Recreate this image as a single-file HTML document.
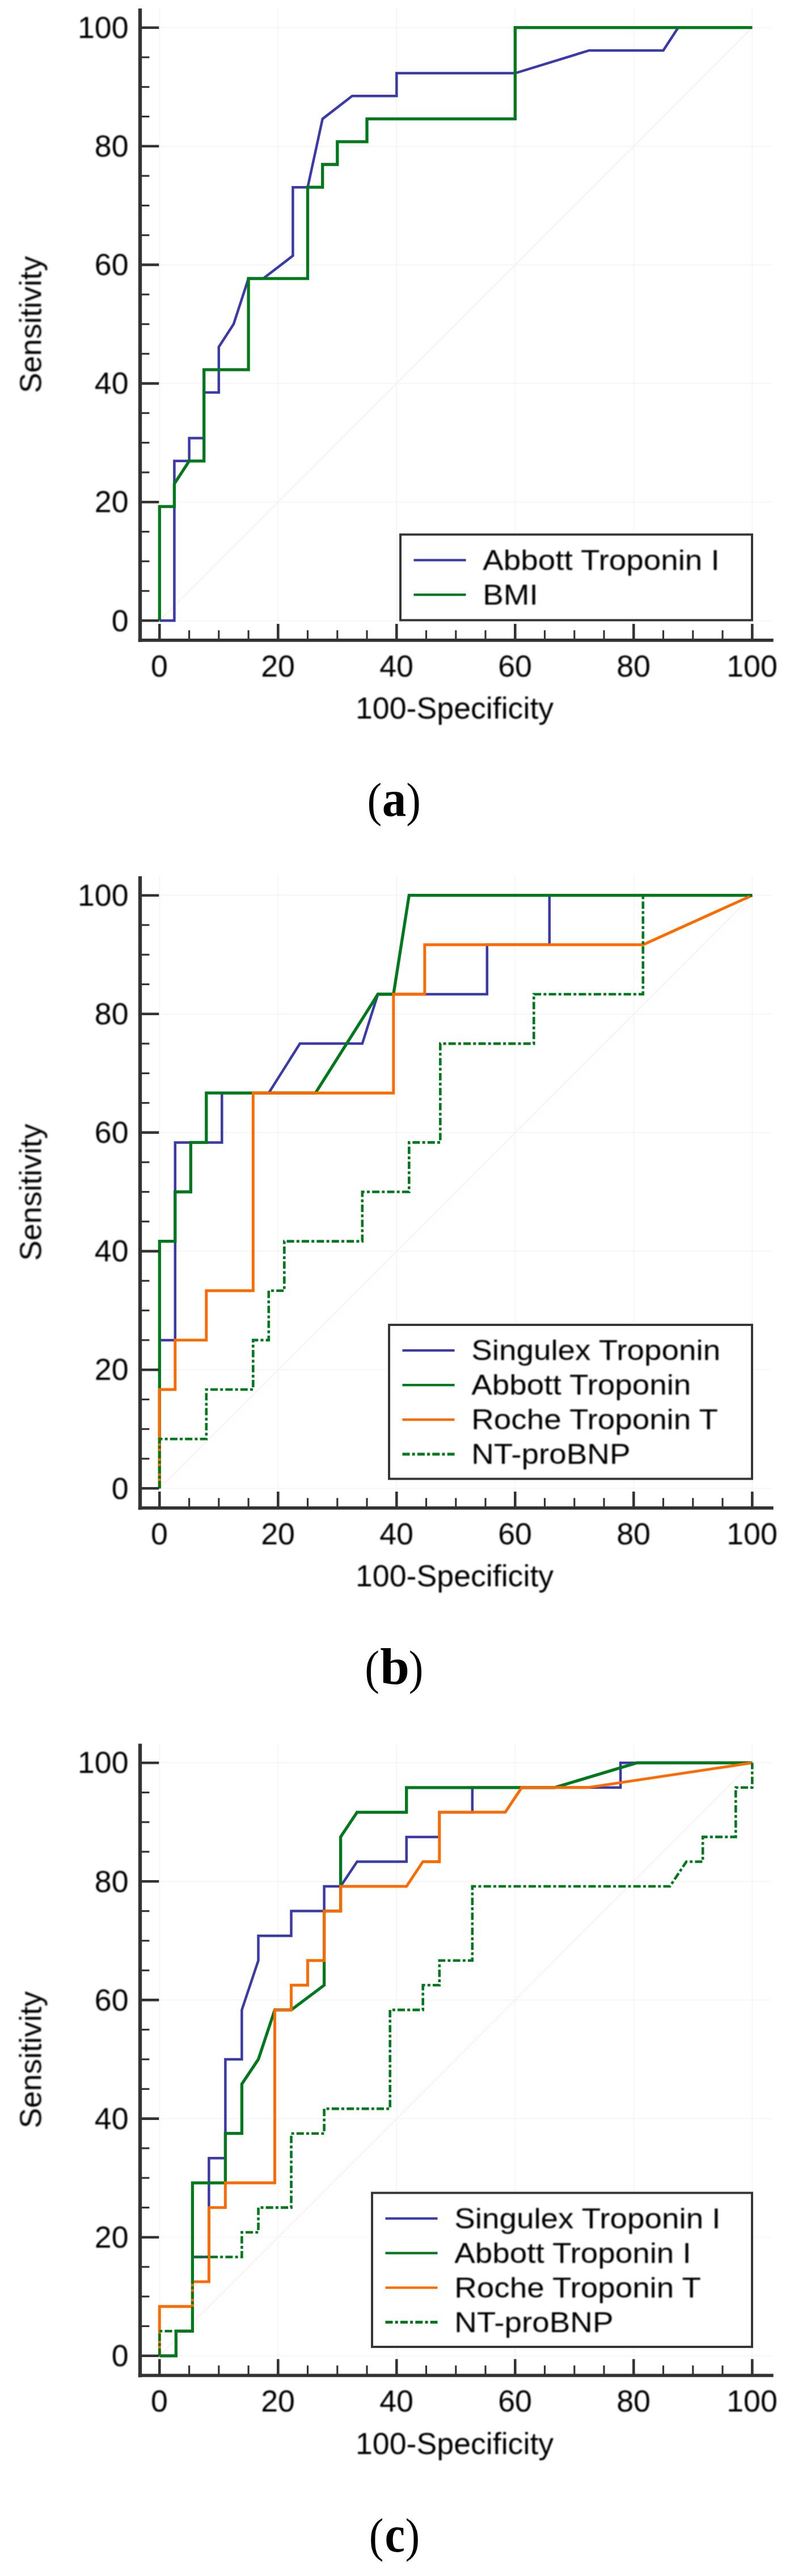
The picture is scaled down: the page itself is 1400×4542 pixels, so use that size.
<!DOCTYPE html>
<html lang="en"><head><meta charset="utf-8"><title>ROC curves</title>
<style>
html,body{margin:0;padding:0;background:#fff;}
svg{display:block;}
text{font-family:"Liberation Sans",sans-serif;fill:#000000;}
.cap{font-family:"Liberation Serif",serif;fill:#000;}
.tk{font-size:53.7px;}
.lg{font-size:50.5px;}
</style></head><body>
<svg width="1400" height="4542" viewBox="0 0 1400 4542">
<defs><filter id="soft" x="0" y="0" width="1400" height="4542" filterUnits="userSpaceOnUse"><feGaussianBlur stdDeviation="0.8"/></filter></defs>
<rect x="0" y="0" width="1400" height="4542" fill="#ffffff"/>
<g>
<g id="chart-a">
<g stroke="#f5f5f5" stroke-width="1.8" fill="none">
<line x1="281.3" y1="14.0" x2="281.3" y2="1095.3"/>
<line x1="280.3" y1="1094.3" x2="1360.0" y2="1094.3"/>
<line x1="490.3" y1="14.0" x2="490.3" y2="1095.3"/>
<line x1="280.3" y1="885.2" x2="1360.0" y2="885.2"/>
<line x1="699.3" y1="14.0" x2="699.3" y2="1095.3"/>
<line x1="280.3" y1="676.1" x2="1360.0" y2="676.1"/>
<line x1="908.3" y1="14.0" x2="908.3" y2="1095.3"/>
<line x1="280.3" y1="466.9" x2="1360.0" y2="466.9"/>
<line x1="1117.3" y1="14.0" x2="1117.3" y2="1095.3"/>
<line x1="280.3" y1="257.8" x2="1360.0" y2="257.8"/>
<line x1="1326.3" y1="14.0" x2="1326.3" y2="1095.3"/>
<line x1="280.3" y1="48.7" x2="1360.0" y2="48.7"/>
</g>
<line x1="281.3" y1="1094.3" x2="1326.3" y2="48.7" stroke="#fcf0f0" stroke-width="2.2"/>
<polyline points="281.3,1094.3 307.4,1094.3 307.4,812.8 333.6,812.8 333.6,772.6 359.7,772.6 359.7,692.1 385.8,692.1 385.8,611.7 411.9,571.5 438.1,491.1 464.2,491.1 516.4,450.9 516.4,330.2 542.5,330.2 568.7,209.6 620.9,169.3 699.3,169.3 699.3,129.1 908.3,129.1 1038.9,88.9 1169.5,88.9 1195.7,48.7 1326.3,48.7" fill="none" stroke="#3a3aa8" stroke-width="4.5" stroke-linejoin="miter" stroke-linecap="butt"/>
<polyline points="281.3,1094.3 281.3,893.2 307.4,893.2 307.4,853.0 333.6,812.8 359.7,812.8 359.7,651.9 438.1,651.9 438.1,491.1 542.5,491.1 542.5,330.2 568.7,330.2 568.7,290.0 594.8,290.0 594.8,249.8 647.0,249.8 647.0,209.6 908.3,209.6 908.3,48.7 1326.3,48.7" fill="none" stroke="#00791c" stroke-width="5.3" stroke-linejoin="miter" stroke-linecap="butt"/>
<rect x="706.0" y="942.5" width="620.0" height="151.0" fill="#ffffff" stroke="#333333" stroke-width="3.9"/>
<line x1="729.5" y1="987.6" x2="821.5" y2="987.6" stroke="#3a3aa8" stroke-width="4.4"/>
<line x1="729.5" y1="1048.6" x2="821.5" y2="1048.6" stroke="#00791c" stroke-width="4.4"/>
<g stroke="#333333" fill="none">
<line x1="247.0" y1="15.0" x2="247.0" y2="1131.9" stroke-width="6.4"/>
<line x1="243.8" y1="1128.9" x2="1363.7" y2="1128.9" stroke-width="5.8"/>
<line x1="247.0" y1="1094.3" x2="280.3" y2="1094.3" stroke-width="4.6"/>
<line x1="281.3" y1="1128.9" x2="281.3" y2="1100.0" stroke-width="4.6"/>
<line x1="247.0" y1="1042.0" x2="263.4" y2="1042.0" stroke-width="3.2"/>
<line x1="333.6" y1="1128.9" x2="333.6" y2="1111.3" stroke-width="3.2"/>
<line x1="247.0" y1="989.7" x2="263.4" y2="989.7" stroke-width="3.2"/>
<line x1="385.8" y1="1128.9" x2="385.8" y2="1111.3" stroke-width="3.2"/>
<line x1="247.0" y1="937.5" x2="263.4" y2="937.5" stroke-width="3.2"/>
<line x1="438.1" y1="1128.9" x2="438.1" y2="1111.3" stroke-width="3.2"/>
<line x1="247.0" y1="885.2" x2="280.3" y2="885.2" stroke-width="4.6"/>
<line x1="490.3" y1="1128.9" x2="490.3" y2="1100.0" stroke-width="4.6"/>
<line x1="247.0" y1="832.9" x2="263.4" y2="832.9" stroke-width="3.2"/>
<line x1="542.5" y1="1128.9" x2="542.5" y2="1111.3" stroke-width="3.2"/>
<line x1="247.0" y1="780.6" x2="263.4" y2="780.6" stroke-width="3.2"/>
<line x1="594.8" y1="1128.9" x2="594.8" y2="1111.3" stroke-width="3.2"/>
<line x1="247.0" y1="728.3" x2="263.4" y2="728.3" stroke-width="3.2"/>
<line x1="647.0" y1="1128.9" x2="647.0" y2="1111.3" stroke-width="3.2"/>
<line x1="247.0" y1="676.1" x2="280.3" y2="676.1" stroke-width="4.6"/>
<line x1="699.3" y1="1128.9" x2="699.3" y2="1100.0" stroke-width="4.6"/>
<line x1="247.0" y1="623.8" x2="263.4" y2="623.8" stroke-width="3.2"/>
<line x1="751.5" y1="1128.9" x2="751.5" y2="1111.3" stroke-width="3.2"/>
<line x1="247.0" y1="571.5" x2="263.4" y2="571.5" stroke-width="3.2"/>
<line x1="803.8" y1="1128.9" x2="803.8" y2="1111.3" stroke-width="3.2"/>
<line x1="247.0" y1="519.2" x2="263.4" y2="519.2" stroke-width="3.2"/>
<line x1="856.0" y1="1128.9" x2="856.0" y2="1111.3" stroke-width="3.2"/>
<line x1="247.0" y1="466.9" x2="280.3" y2="466.9" stroke-width="4.6"/>
<line x1="908.3" y1="1128.9" x2="908.3" y2="1100.0" stroke-width="4.6"/>
<line x1="247.0" y1="414.7" x2="263.4" y2="414.7" stroke-width="3.2"/>
<line x1="960.5" y1="1128.9" x2="960.5" y2="1111.3" stroke-width="3.2"/>
<line x1="247.0" y1="362.4" x2="263.4" y2="362.4" stroke-width="3.2"/>
<line x1="1012.8" y1="1128.9" x2="1012.8" y2="1111.3" stroke-width="3.2"/>
<line x1="247.0" y1="310.1" x2="263.4" y2="310.1" stroke-width="3.2"/>
<line x1="1065.0" y1="1128.9" x2="1065.0" y2="1111.3" stroke-width="3.2"/>
<line x1="247.0" y1="257.8" x2="280.3" y2="257.8" stroke-width="4.6"/>
<line x1="1117.3" y1="1128.9" x2="1117.3" y2="1100.0" stroke-width="4.6"/>
<line x1="247.0" y1="205.5" x2="263.4" y2="205.5" stroke-width="3.2"/>
<line x1="1169.5" y1="1128.9" x2="1169.5" y2="1111.3" stroke-width="3.2"/>
<line x1="247.0" y1="153.3" x2="263.4" y2="153.3" stroke-width="3.2"/>
<line x1="1221.8" y1="1128.9" x2="1221.8" y2="1111.3" stroke-width="3.2"/>
<line x1="247.0" y1="101.0" x2="263.4" y2="101.0" stroke-width="3.2"/>
<line x1="1274.0" y1="1128.9" x2="1274.0" y2="1111.3" stroke-width="3.2"/>
<line x1="247.0" y1="48.7" x2="280.3" y2="48.7" stroke-width="4.6"/>
<line x1="1326.3" y1="1128.9" x2="1326.3" y2="1100.0" stroke-width="4.6"/>
</g>
<text class="cap" font-size="85.6px" transform="translate(647.6,1439.4) scale(0.9,1)">(</text>
<text class="cap" font-size="90.0px" font-weight="bold" transform="translate(673.8,1439.4) scale(0.945,1)">a</text>
<text class="cap" font-size="85.6px" transform="translate(716.3,1439.4) scale(0.9,1)">)</text>
</g>
<g id="chart-b">
<g stroke="#f5f5f5" stroke-width="1.8" fill="none">
<line x1="281.3" y1="1544.0" x2="281.3" y2="2625.3"/>
<line x1="280.3" y1="2624.3" x2="1360.0" y2="2624.3"/>
<line x1="490.3" y1="1544.0" x2="490.3" y2="2625.3"/>
<line x1="280.3" y1="2415.2" x2="1360.0" y2="2415.2"/>
<line x1="699.3" y1="1544.0" x2="699.3" y2="2625.3"/>
<line x1="280.3" y1="2206.1" x2="1360.0" y2="2206.1"/>
<line x1="908.3" y1="1544.0" x2="908.3" y2="2625.3"/>
<line x1="280.3" y1="1996.9" x2="1360.0" y2="1996.9"/>
<line x1="1117.3" y1="1544.0" x2="1117.3" y2="2625.3"/>
<line x1="280.3" y1="1787.8" x2="1360.0" y2="1787.8"/>
<line x1="1326.3" y1="1544.0" x2="1326.3" y2="2625.3"/>
<line x1="280.3" y1="1578.7" x2="1360.0" y2="1578.7"/>
</g>
<line x1="281.3" y1="2624.3" x2="1326.3" y2="1578.7" stroke="#fcf0f0" stroke-width="2.2"/>
<polyline points="281.3,2624.3 281.3,2362.9 308.8,2362.9 308.8,2014.4 391.3,2014.4 391.3,1927.2 473.8,1927.2 528.8,1840.1 638.8,1840.1 666.3,1753.0 858.8,1753.0 858.8,1665.8 968.8,1665.8 968.8,1578.7 1326.3,1578.7" fill="none" stroke="#3a3aa8" stroke-width="4.5" stroke-linejoin="miter" stroke-linecap="butt"/>
<polyline points="281.3,2624.3 281.3,2188.6 308.8,2188.6 308.8,2101.5 336.3,2101.5 336.3,2014.4 363.8,2014.4 363.8,1927.2 556.3,1927.2 666.3,1753.0 693.8,1753.0 721.3,1578.7 1326.3,1578.7" fill="none" stroke="#00791c" stroke-width="5.3" stroke-linejoin="miter" stroke-linecap="butt"/>
<polyline points="281.3,2624.3 281.3,2450.0 308.8,2450.0 308.8,2362.9 363.8,2362.9 363.8,2275.8 446.3,2275.8 446.3,1927.2 693.8,1927.2 693.8,1753.0 748.8,1753.0 748.8,1665.8 1133.8,1665.8 1326.3,1578.7" fill="none" stroke="#ff6a00" stroke-width="4.9" stroke-linejoin="miter" stroke-linecap="butt"/>
<polyline points="281.3,2624.3 281.3,2537.2 363.8,2537.2 363.8,2450.0 446.3,2450.0 446.3,2362.9 473.8,2362.9 473.8,2275.8 501.3,2275.8 501.3,2188.6 638.8,2188.6 638.8,2101.5 721.3,2101.5 721.3,2014.4 776.3,2014.4 776.3,1840.1 941.3,1840.1 941.3,1753.0 1133.8,1753.0 1133.8,1578.7 1326.3,1578.7" fill="none" stroke="#00791c" stroke-width="4.6" stroke-linejoin="miter" stroke-linecap="butt" stroke-dasharray="13 4.2 5 4.2"/>
<rect x="686.0" y="2336.0" width="640.0" height="271.5" fill="#ffffff" stroke="#333333" stroke-width="3.9"/>
<line x1="709.5" y1="2381.1" x2="801.5" y2="2381.1" stroke="#3a3aa8" stroke-width="4.4"/>
<line x1="709.5" y1="2442.1" x2="801.5" y2="2442.1" stroke="#00791c" stroke-width="4.4"/>
<line x1="709.5" y1="2503.1" x2="801.5" y2="2503.1" stroke="#ff6a00" stroke-width="4.4"/>
<line x1="709.5" y1="2564.1" x2="801.5" y2="2564.1" stroke="#00791c" stroke-width="5.0" stroke-dasharray="13 4.2 5 4.2"/>
<g stroke="#333333" fill="none">
<line x1="247.0" y1="1545.0" x2="247.0" y2="2661.9" stroke-width="6.4"/>
<line x1="243.8" y1="2658.9" x2="1363.7" y2="2658.9" stroke-width="5.8"/>
<line x1="247.0" y1="2624.3" x2="280.3" y2="2624.3" stroke-width="4.6"/>
<line x1="281.3" y1="2658.9" x2="281.3" y2="2630.0" stroke-width="4.6"/>
<line x1="247.0" y1="2572.0" x2="263.4" y2="2572.0" stroke-width="3.2"/>
<line x1="333.6" y1="2658.9" x2="333.6" y2="2641.3" stroke-width="3.2"/>
<line x1="247.0" y1="2519.7" x2="263.4" y2="2519.7" stroke-width="3.2"/>
<line x1="385.8" y1="2658.9" x2="385.8" y2="2641.3" stroke-width="3.2"/>
<line x1="247.0" y1="2467.5" x2="263.4" y2="2467.5" stroke-width="3.2"/>
<line x1="438.1" y1="2658.9" x2="438.1" y2="2641.3" stroke-width="3.2"/>
<line x1="247.0" y1="2415.2" x2="280.3" y2="2415.2" stroke-width="4.6"/>
<line x1="490.3" y1="2658.9" x2="490.3" y2="2630.0" stroke-width="4.6"/>
<line x1="247.0" y1="2362.9" x2="263.4" y2="2362.9" stroke-width="3.2"/>
<line x1="542.5" y1="2658.9" x2="542.5" y2="2641.3" stroke-width="3.2"/>
<line x1="247.0" y1="2310.6" x2="263.4" y2="2310.6" stroke-width="3.2"/>
<line x1="594.8" y1="2658.9" x2="594.8" y2="2641.3" stroke-width="3.2"/>
<line x1="247.0" y1="2258.3" x2="263.4" y2="2258.3" stroke-width="3.2"/>
<line x1="647.0" y1="2658.9" x2="647.0" y2="2641.3" stroke-width="3.2"/>
<line x1="247.0" y1="2206.1" x2="280.3" y2="2206.1" stroke-width="4.6"/>
<line x1="699.3" y1="2658.9" x2="699.3" y2="2630.0" stroke-width="4.6"/>
<line x1="247.0" y1="2153.8" x2="263.4" y2="2153.8" stroke-width="3.2"/>
<line x1="751.5" y1="2658.9" x2="751.5" y2="2641.3" stroke-width="3.2"/>
<line x1="247.0" y1="2101.5" x2="263.4" y2="2101.5" stroke-width="3.2"/>
<line x1="803.8" y1="2658.9" x2="803.8" y2="2641.3" stroke-width="3.2"/>
<line x1="247.0" y1="2049.2" x2="263.4" y2="2049.2" stroke-width="3.2"/>
<line x1="856.0" y1="2658.9" x2="856.0" y2="2641.3" stroke-width="3.2"/>
<line x1="247.0" y1="1996.9" x2="280.3" y2="1996.9" stroke-width="4.6"/>
<line x1="908.3" y1="2658.9" x2="908.3" y2="2630.0" stroke-width="4.6"/>
<line x1="247.0" y1="1944.7" x2="263.4" y2="1944.7" stroke-width="3.2"/>
<line x1="960.5" y1="2658.9" x2="960.5" y2="2641.3" stroke-width="3.2"/>
<line x1="247.0" y1="1892.4" x2="263.4" y2="1892.4" stroke-width="3.2"/>
<line x1="1012.8" y1="2658.9" x2="1012.8" y2="2641.3" stroke-width="3.2"/>
<line x1="247.0" y1="1840.1" x2="263.4" y2="1840.1" stroke-width="3.2"/>
<line x1="1065.0" y1="2658.9" x2="1065.0" y2="2641.3" stroke-width="3.2"/>
<line x1="247.0" y1="1787.8" x2="280.3" y2="1787.8" stroke-width="4.6"/>
<line x1="1117.3" y1="2658.9" x2="1117.3" y2="2630.0" stroke-width="4.6"/>
<line x1="247.0" y1="1735.5" x2="263.4" y2="1735.5" stroke-width="3.2"/>
<line x1="1169.5" y1="2658.9" x2="1169.5" y2="2641.3" stroke-width="3.2"/>
<line x1="247.0" y1="1683.3" x2="263.4" y2="1683.3" stroke-width="3.2"/>
<line x1="1221.8" y1="2658.9" x2="1221.8" y2="2641.3" stroke-width="3.2"/>
<line x1="247.0" y1="1631.0" x2="263.4" y2="1631.0" stroke-width="3.2"/>
<line x1="1274.0" y1="2658.9" x2="1274.0" y2="2641.3" stroke-width="3.2"/>
<line x1="247.0" y1="1578.7" x2="280.3" y2="1578.7" stroke-width="4.6"/>
<line x1="1326.3" y1="2658.9" x2="1326.3" y2="2630.0" stroke-width="4.6"/>
</g>
<text class="cap" font-size="85.6px" transform="translate(643.2,2969.4) scale(0.9,1)">(</text>
<text class="cap" font-size="90.0px" font-weight="bold" transform="translate(670.2,2969.4) scale(1.035,1)">b</text>
<text class="cap" font-size="85.6px" transform="translate(720.8,2969.4) scale(0.9,1)">)</text>
</g>
<g id="chart-c">
<g stroke="#f5f5f5" stroke-width="1.8" fill="none">
<line x1="281.3" y1="3073.5" x2="281.3" y2="4154.8"/>
<line x1="280.3" y1="4153.8" x2="1360.0" y2="4153.8"/>
<line x1="490.3" y1="3073.5" x2="490.3" y2="4154.8"/>
<line x1="280.3" y1="3944.7" x2="1360.0" y2="3944.7"/>
<line x1="699.3" y1="3073.5" x2="699.3" y2="4154.8"/>
<line x1="280.3" y1="3735.6" x2="1360.0" y2="3735.6"/>
<line x1="908.3" y1="3073.5" x2="908.3" y2="4154.8"/>
<line x1="280.3" y1="3526.4" x2="1360.0" y2="3526.4"/>
<line x1="1117.3" y1="3073.5" x2="1117.3" y2="4154.8"/>
<line x1="280.3" y1="3317.3" x2="1360.0" y2="3317.3"/>
<line x1="1326.3" y1="3073.5" x2="1326.3" y2="4154.8"/>
<line x1="280.3" y1="3108.2" x2="1360.0" y2="3108.2"/>
</g>
<line x1="281.3" y1="4153.8" x2="1326.3" y2="3108.2" stroke="#fcf0f0" stroke-width="2.2"/>
<polyline points="281.3,4153.8 310.3,4153.8 310.3,4110.2 339.4,4110.2 339.4,3979.5 368.4,3979.5 368.4,3805.3 397.4,3805.3 397.4,3631.0 426.4,3631.0 426.4,3543.9 455.5,3456.7 455.5,3413.2 513.5,3413.2 513.5,3369.6 571.6,3369.6 571.6,3326.0 600.6,3326.0 629.6,3282.5 716.7,3282.5 716.7,3238.9 774.8,3238.9 774.8,3195.3 832.8,3195.3 832.8,3151.8 1094.1,3151.8 1094.1,3108.2 1326.3,3108.2" fill="none" stroke="#3a3aa8" stroke-width="4.5" stroke-linejoin="miter" stroke-linecap="butt"/>
<polyline points="281.3,4153.8 310.3,4153.8 310.3,4110.2 339.4,4110.2 339.4,3848.8 397.4,3848.8 397.4,3761.7 426.4,3761.7 426.4,3674.6 455.5,3631.0 484.5,3543.9 513.5,3543.9 571.6,3500.3 571.6,3369.6 600.6,3369.6 600.6,3238.9 629.6,3195.3 716.7,3195.3 716.7,3151.8 978.0,3151.8 1123.1,3108.2 1326.3,3108.2" fill="none" stroke="#00791c" stroke-width="5.3" stroke-linejoin="miter" stroke-linecap="butt"/>
<polyline points="281.3,4153.8 281.3,4066.7 339.4,4066.7 339.4,4023.1 368.4,4023.1 368.4,3892.4 397.4,3892.4 397.4,3848.8 484.5,3848.8 484.5,3543.9 513.5,3543.9 513.5,3500.3 542.5,3500.3 542.5,3456.7 571.6,3456.7 571.6,3369.6 600.6,3369.6 600.6,3326.0 716.7,3326.0 745.7,3282.5 774.8,3282.5 774.8,3195.3 890.9,3195.3 919.9,3151.8 1036.0,3151.8 1326.3,3108.2" fill="none" stroke="#ff6a00" stroke-width="4.9" stroke-linejoin="miter" stroke-linecap="butt"/>
<polyline points="281.3,4153.8 281.3,4110.2 339.4,4110.2 339.4,3979.5 426.4,3979.5 426.4,3936.0 455.5,3936.0 455.5,3892.4 513.5,3892.4 513.5,3761.7 571.6,3761.7 571.6,3718.1 687.7,3718.1 687.7,3543.9 745.7,3543.9 745.7,3500.3 774.8,3500.3 774.8,3456.7 832.8,3456.7 832.8,3326.0 1181.2,3326.0 1210.2,3282.5 1239.2,3282.5 1239.2,3238.9 1297.3,3238.9 1297.3,3151.8 1326.3,3151.8 1326.3,3108.2" fill="none" stroke="#00791c" stroke-width="4.6" stroke-linejoin="miter" stroke-linecap="butt" stroke-dasharray="13 4.2 5 4.2"/>
<rect x="656.0" y="3866.5" width="670.0" height="271.5" fill="#ffffff" stroke="#333333" stroke-width="3.9"/>
<line x1="679.5" y1="3911.6" x2="771.5" y2="3911.6" stroke="#3a3aa8" stroke-width="4.4"/>
<line x1="679.5" y1="3972.6" x2="771.5" y2="3972.6" stroke="#00791c" stroke-width="4.4"/>
<line x1="679.5" y1="4033.6" x2="771.5" y2="4033.6" stroke="#ff6a00" stroke-width="4.4"/>
<line x1="679.5" y1="4094.6" x2="771.5" y2="4094.6" stroke="#00791c" stroke-width="5.0" stroke-dasharray="13 4.2 5 4.2"/>
<g stroke="#333333" fill="none">
<line x1="247.0" y1="3074.5" x2="247.0" y2="4191.4" stroke-width="6.4"/>
<line x1="243.8" y1="4188.4" x2="1363.7" y2="4188.4" stroke-width="5.8"/>
<line x1="247.0" y1="4153.8" x2="280.3" y2="4153.8" stroke-width="4.6"/>
<line x1="281.3" y1="4188.4" x2="281.3" y2="4159.5" stroke-width="4.6"/>
<line x1="247.0" y1="4101.5" x2="263.4" y2="4101.5" stroke-width="3.2"/>
<line x1="333.6" y1="4188.4" x2="333.6" y2="4170.8" stroke-width="3.2"/>
<line x1="247.0" y1="4049.2" x2="263.4" y2="4049.2" stroke-width="3.2"/>
<line x1="385.8" y1="4188.4" x2="385.8" y2="4170.8" stroke-width="3.2"/>
<line x1="247.0" y1="3997.0" x2="263.4" y2="3997.0" stroke-width="3.2"/>
<line x1="438.1" y1="4188.4" x2="438.1" y2="4170.8" stroke-width="3.2"/>
<line x1="247.0" y1="3944.7" x2="280.3" y2="3944.7" stroke-width="4.6"/>
<line x1="490.3" y1="4188.4" x2="490.3" y2="4159.5" stroke-width="4.6"/>
<line x1="247.0" y1="3892.4" x2="263.4" y2="3892.4" stroke-width="3.2"/>
<line x1="542.5" y1="4188.4" x2="542.5" y2="4170.8" stroke-width="3.2"/>
<line x1="247.0" y1="3840.1" x2="263.4" y2="3840.1" stroke-width="3.2"/>
<line x1="594.8" y1="4188.4" x2="594.8" y2="4170.8" stroke-width="3.2"/>
<line x1="247.0" y1="3787.8" x2="263.4" y2="3787.8" stroke-width="3.2"/>
<line x1="647.0" y1="4188.4" x2="647.0" y2="4170.8" stroke-width="3.2"/>
<line x1="247.0" y1="3735.6" x2="280.3" y2="3735.6" stroke-width="4.6"/>
<line x1="699.3" y1="4188.4" x2="699.3" y2="4159.5" stroke-width="4.6"/>
<line x1="247.0" y1="3683.3" x2="263.4" y2="3683.3" stroke-width="3.2"/>
<line x1="751.5" y1="4188.4" x2="751.5" y2="4170.8" stroke-width="3.2"/>
<line x1="247.0" y1="3631.0" x2="263.4" y2="3631.0" stroke-width="3.2"/>
<line x1="803.8" y1="4188.4" x2="803.8" y2="4170.8" stroke-width="3.2"/>
<line x1="247.0" y1="3578.7" x2="263.4" y2="3578.7" stroke-width="3.2"/>
<line x1="856.0" y1="4188.4" x2="856.0" y2="4170.8" stroke-width="3.2"/>
<line x1="247.0" y1="3526.4" x2="280.3" y2="3526.4" stroke-width="4.6"/>
<line x1="908.3" y1="4188.4" x2="908.3" y2="4159.5" stroke-width="4.6"/>
<line x1="247.0" y1="3474.2" x2="263.4" y2="3474.2" stroke-width="3.2"/>
<line x1="960.5" y1="4188.4" x2="960.5" y2="4170.8" stroke-width="3.2"/>
<line x1="247.0" y1="3421.9" x2="263.4" y2="3421.9" stroke-width="3.2"/>
<line x1="1012.8" y1="4188.4" x2="1012.8" y2="4170.8" stroke-width="3.2"/>
<line x1="247.0" y1="3369.6" x2="263.4" y2="3369.6" stroke-width="3.2"/>
<line x1="1065.0" y1="4188.4" x2="1065.0" y2="4170.8" stroke-width="3.2"/>
<line x1="247.0" y1="3317.3" x2="280.3" y2="3317.3" stroke-width="4.6"/>
<line x1="1117.3" y1="4188.4" x2="1117.3" y2="4159.5" stroke-width="4.6"/>
<line x1="247.0" y1="3265.0" x2="263.4" y2="3265.0" stroke-width="3.2"/>
<line x1="1169.5" y1="4188.4" x2="1169.5" y2="4170.8" stroke-width="3.2"/>
<line x1="247.0" y1="3212.8" x2="263.4" y2="3212.8" stroke-width="3.2"/>
<line x1="1221.8" y1="4188.4" x2="1221.8" y2="4170.8" stroke-width="3.2"/>
<line x1="247.0" y1="3160.5" x2="263.4" y2="3160.5" stroke-width="3.2"/>
<line x1="1274.0" y1="4188.4" x2="1274.0" y2="4170.8" stroke-width="3.2"/>
<line x1="247.0" y1="3108.2" x2="280.3" y2="3108.2" stroke-width="4.6"/>
<line x1="1326.3" y1="4188.4" x2="1326.3" y2="4159.5" stroke-width="4.6"/>
</g>
<text class="cap" font-size="85.6px" transform="translate(650.8,4498.9) scale(0.9,1)">(</text>
<text class="cap" font-size="90.0px" font-weight="bold" transform="translate(678.4,4498.9) scale(0.89,1)">c</text>
<text class="cap" font-size="85.6px" transform="translate(714.5,4498.9) scale(0.9,1)">)</text>
</g>
</g>
<g filter="url(#soft)">
<text class="lg" transform="translate(851.2,1004.6) scale(1.086,1)">Abbott Troponin I</text>
<text class="lg" transform="translate(851.2,1065.6) scale(1.086,1)">BMI</text>
<text class="tk" text-anchor="end" x="226.5" y="1112.5">0</text>
<text class="tk" text-anchor="middle" x="281.0" y="1192.6">0</text>
<text class="tk" text-anchor="end" x="226.5" y="903.4">20</text>
<text class="tk" text-anchor="middle" x="490.0" y="1192.6">20</text>
<text class="tk" text-anchor="end" x="226.5" y="694.3">40</text>
<text class="tk" text-anchor="middle" x="699.0" y="1192.6">40</text>
<text class="tk" text-anchor="end" x="226.5" y="485.1">60</text>
<text class="tk" text-anchor="middle" x="908.0" y="1192.6">60</text>
<text class="tk" text-anchor="end" x="226.5" y="276.0">80</text>
<text class="tk" text-anchor="middle" x="1117.0" y="1192.6">80</text>
<text class="tk" text-anchor="end" x="226.5" y="66.9">100</text>
<text class="tk" text-anchor="middle" x="1326.0" y="1192.6">100</text>
<text class="tk" text-anchor="middle" x="801.6" y="1267.3">100-Specificity</text>
<text class="tk" text-anchor="middle" transform="translate(72.4,572.3) rotate(-90)">Sensitivity</text>
<text class="lg" transform="translate(831.2,2398.1) scale(1.086,1)">Singulex Troponin</text>
<text class="lg" transform="translate(831.2,2459.1) scale(1.086,1)">Abbott Troponin</text>
<text class="lg" transform="translate(831.2,2520.1) scale(1.086,1)">Roche Troponin T</text>
<text class="lg" transform="translate(831.2,2581.1) scale(1.086,1)">NT-proBNP</text>
<text class="tk" text-anchor="end" x="226.5" y="2642.5">0</text>
<text class="tk" text-anchor="middle" x="281.0" y="2722.6">0</text>
<text class="tk" text-anchor="end" x="226.5" y="2433.4">20</text>
<text class="tk" text-anchor="middle" x="490.0" y="2722.6">20</text>
<text class="tk" text-anchor="end" x="226.5" y="2224.3">40</text>
<text class="tk" text-anchor="middle" x="699.0" y="2722.6">40</text>
<text class="tk" text-anchor="end" x="226.5" y="2015.1">60</text>
<text class="tk" text-anchor="middle" x="908.0" y="2722.6">60</text>
<text class="tk" text-anchor="end" x="226.5" y="1806.0">80</text>
<text class="tk" text-anchor="middle" x="1117.0" y="2722.6">80</text>
<text class="tk" text-anchor="end" x="226.5" y="1596.9">100</text>
<text class="tk" text-anchor="middle" x="1326.0" y="2722.6">100</text>
<text class="tk" text-anchor="middle" x="801.6" y="2797.3">100-Specificity</text>
<text class="tk" text-anchor="middle" transform="translate(72.4,2102.3) rotate(-90)">Sensitivity</text>
<text class="lg" transform="translate(801.2,3928.6) scale(1.086,1)">Singulex Troponin I</text>
<text class="lg" transform="translate(801.2,3989.6) scale(1.086,1)">Abbott Troponin I</text>
<text class="lg" transform="translate(801.2,4050.6) scale(1.086,1)">Roche Troponin T</text>
<text class="lg" transform="translate(801.2,4111.6) scale(1.086,1)">NT-proBNP</text>
<text class="tk" text-anchor="end" x="226.5" y="4172.0">0</text>
<text class="tk" text-anchor="middle" x="281.0" y="4252.1">0</text>
<text class="tk" text-anchor="end" x="226.5" y="3962.9">20</text>
<text class="tk" text-anchor="middle" x="490.0" y="4252.1">20</text>
<text class="tk" text-anchor="end" x="226.5" y="3753.8">40</text>
<text class="tk" text-anchor="middle" x="699.0" y="4252.1">40</text>
<text class="tk" text-anchor="end" x="226.5" y="3544.6">60</text>
<text class="tk" text-anchor="middle" x="908.0" y="4252.1">60</text>
<text class="tk" text-anchor="end" x="226.5" y="3335.5">80</text>
<text class="tk" text-anchor="middle" x="1117.0" y="4252.1">80</text>
<text class="tk" text-anchor="end" x="226.5" y="3126.4">100</text>
<text class="tk" text-anchor="middle" x="1326.0" y="4252.1">100</text>
<text class="tk" text-anchor="middle" x="801.6" y="4326.8">100-Specificity</text>
<text class="tk" text-anchor="middle" transform="translate(72.4,3631.8) rotate(-90)">Sensitivity</text>
</g>
</svg>
</body></html>
